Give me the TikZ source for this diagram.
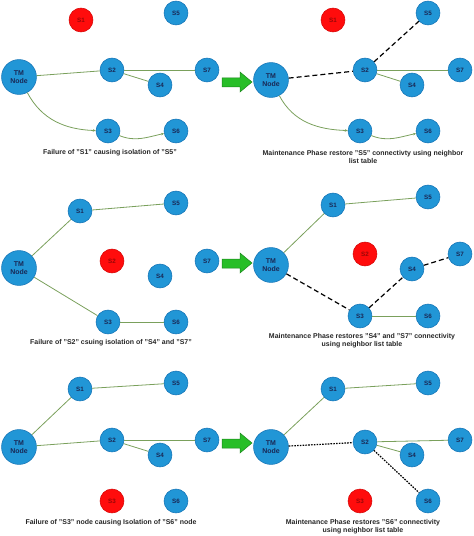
\documentclass[tikz,border=0pt]{standalone}
\usepackage{fontspec}
\setmainfont{Liberation Sans}
\usetikzlibrary{arrows.meta}
\definecolor{nodeblue}{RGB}{33,150,214}
\definecolor{nodeedge}{RGB}{25,120,185}
\definecolor{labelnavy}{RGB}{25,40,85}
\definecolor{failred}{RGB}{255,12,12}
\definecolor{linkgreen}{RGB}{122,160,92}
\definecolor{arrowgreen}{RGB}{40,190,40}
\tikzset{
  sn/.style={circle,fill=nodeblue,draw=nodeedge,line width=0.6pt,minimum size=24pt,inner sep=0pt,
    text=labelnavy,font=\fontsize{6.3}{7}\selectfont\bfseries},
  tm/.style={sn,minimum size=35pt,align=center,font=\fontsize{7}{8.5}\selectfont\bfseries},
  failed/.style={sn,fill=failred,draw=failred!85!black,text=failred!60!black},
  link/.style={draw=linkgreen,line width=0.8pt},
  restore/.style={draw=black,line width=1.2pt,dash pattern=on 5pt off 3pt},
  restoredot/.style={draw=black,line width=1.2pt,dash pattern=on 1.6pt off 1.2pt},
  caption/.style={align=center,font=\fontsize{7}{8}\selectfont\bfseries,text=black!85},
  blockarrow/.style={fill=arrowgreen,draw=arrowgreen!70!black,line width=0.5pt},
}
\begin{document}
\begin{tikzpicture}[x=1bp,y=-1bp,>={Stealth[length=3pt,width=2.6pt]}]
\useasboundingbox (0,0) rectangle (474,536);
%Panel 1
\node[failed] (a1) at (81,20) {S1};
\node[sn] (a5) at (176,13) {S5};
\node[tm] (atm) at (19,77) {TM\\Node};
\node[sn] (a2) at (112,70) {S2};
\node[sn] (a7) at (207,70) {S7};
\node[sn] (a4) at (160,85) {S4};
\node[sn] (a3) at (108,131) {S3};
\node[sn] (a6) at (176,131) {S6};
\draw[link] (atm) -- (a2);
\draw[link] (a2) -- (a7);
\draw[link] (a2) -- (a4);
\draw[link,->] (atm) to[out=-62,in=178] (a3);
\draw[link,->] (a3) to[out=-22,in=192] (a6);
\node[caption] (acap) at (110,153) {Failure of "S1" causing isolation of "S5"};
%Panel 2
\node[failed] (b1) at (333,20) {S1};
\node[sn] (b5) at (428,13) {S5};
\node[tm] (btm) at (271,80) {TM\\Node};
\node[sn] (b2) at (365,70) {S2};
\node[sn] (b7) at (460,70) {S7};
\node[sn] (b4) at (412,85) {S4};
\node[sn] (b3) at (360,131) {S3};
\node[sn] (b6) at (428,131) {S6};
\draw[restore] (btm) -- (b2);
\draw[restore] (b2) -- (b5);
\draw[link] (b2) -- (b7);
\draw[link] (b2) -- (b4);
\draw[link,->] (btm) to[out=-62,in=178] (b3);
\draw[link,->] (b3) to[out=-22,in=192] (b6);
\node[caption] (bcap) at (363,157) {Maintenance Phase restore "S5" connectivty using neighbor\\list table};
%Panel 3
\node[sn] (c1) at (80,211) {S1};
\node[sn] (c5) at (176,203) {S5};
\node[tm] (ctm) at (19,268) {TM\\Node};
\node[failed] (c2) at (112,261) {S2};
\node[sn] (c4) at (160,276) {S4};
\node[sn] (c7) at (207,261) {S7};
\node[sn] (c3) at (108,322) {S3};
\node[sn] (c6) at (176,322) {S6};
\draw[link] (ctm) -- (c1);
\draw[link] (c1) -- (c5);
\draw[link] (ctm) -- (c3);
\draw[link] (c3) -- (c6);
\node[caption] (ccap) at (111,343) {Failure of "S2" csuing isolation of "S4" and "S7"};
%Panel 4
\node[sn] (d1) at (333,205) {S1};
\node[sn] (d5) at (428,197) {S5};
\node[tm] (dtm) at (271,265) {TM\\Node};
\node[failed] (d2) at (365,254) {S2};
\node[sn] (d7) at (460,254) {S7};
\node[sn] (d4) at (412,269) {S4};
\node[sn] (d3) at (360,316) {S3};
\node[sn] (d6) at (428,316) {S6};
\draw[link] (dtm) -- (d1);
\draw[link] (d1) -- (d5);
\draw[restore] (dtm) -- (d3);
\draw[restore] (d3) -- (d4);
\draw[restore] (d4) -- (d7);
\draw[link] (d3) -- (d6);
\node[caption] (dcap) at (362,341) {Maintenance Phase restores "S4" and "S7" connectivity\\using neighbor list table};
%Panel 5
\node[sn] (e1) at (80,389) {S1};
\node[sn] (e5) at (176,383) {S5};
\node[tm] (etm) at (19,447) {TM\\Node};
\node[sn] (e2) at (112,440) {S2};
\node[sn] (e7) at (207,440) {S7};
\node[sn] (e4) at (160,455) {S4};
\node[failed] (e3) at (112,501) {S3};
\node[sn] (e6) at (176,501) {S6};
\draw[link] (etm) -- (e1);
\draw[link] (e1) -- (e5);
\draw[link] (etm) -- (e2);
\draw[link] (e2) -- (e7);
\draw[link] (e2) -- (e4);
\node[caption] (ecap) at (111,523) {Failure of "S3" node causing Isolation of "S6" node};
%Panel 6
\node[sn] (f1) at (333,389) {S1};
\node[sn] (f5) at (428,383) {S5};
\node[tm] (ftm) at (271,447) {TM\\Node};
\node[sn] (f2) at (365,442) {S2};
\node[sn] (f7) at (460,440) {S7};
\node[sn] (f4) at (412,455) {S4};
\node[failed] (f3) at (360,501) {S3};
\node[sn] (f6) at (428,501) {S6};
\draw[link] (ftm) -- (f1);
\draw[link] (f1) -- (f5);
\draw[restoredot] (ftm) -- (f2);
\draw[link] (f2) -- (f7);
\draw[link] (f2) -- (f4);
\draw[restoredot] (f2) -- (f6);
\node[caption] (fcap) at (363,527) {Maintenance Phase restores "S6" connectivity\\using neighbor list table};
%Green arrows
\draw[blockarrow] (222,78) -- (240,78) -- (240,72) -- (252,82) -- (240,92) -- (240,87) -- (222,87) -- cycle;
\draw[blockarrow] (222,259) -- (240,259) -- (240,253) -- (252,263) -- (240,273) -- (240,268) -- (222,268) -- cycle;
\draw[blockarrow] (222,439) -- (240,439) -- (240,433) -- (252,443) -- (240,453) -- (240,448) -- (222,448) -- cycle;
\end{tikzpicture}
\end{document}
